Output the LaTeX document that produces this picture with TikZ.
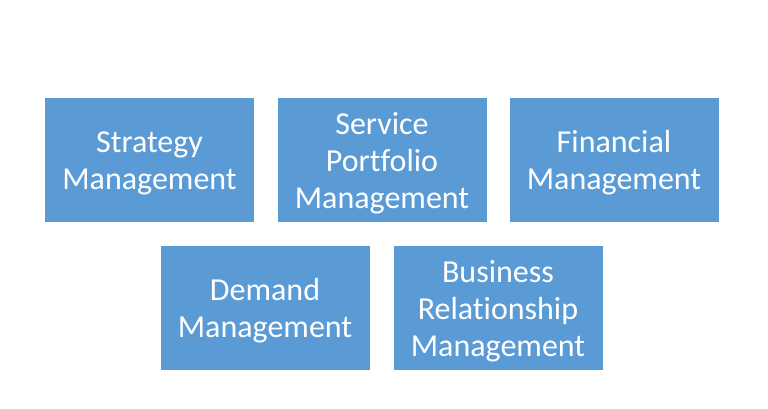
\documentclass[tikz,border=0pt]{standalone}
\usepackage{fontspec}
\setmainfont{Carlito}[Ligatures=NoCommon]
\definecolor{boxblue}{HTML}{5B9BD5}
\begin{document}
\begin{tikzpicture}[x=1pt,y=-1pt,
  card/.style={fill=boxblue, draw=none, minimum width=209pt, minimum height=124pt,
    inner sep=0pt},
  cardtext/.style={inner sep=0pt, text=white, align=center,
    font=\fontsize{32}{37}\selectfont}]
\useasboundingbox (0,0) rectangle (768,408);
\fill[white] (0,0) rectangle (768,408);
\node[card] (strategy) at (149.5,160) {};
\node[card] (portfolio) at (382,160) {};
\node[card] (financial) at (614,160) {};
\node[card] (demand) at (265,308) {};
\node[card] (business) at (498,308) {};
\node[cardtext] (strategyt) at ([yshift=-3pt]strategy.center) {Strategy\\Management};
\node[cardtext] (portfoliot) at ([yshift=-3pt]portfolio.center) {Service\\Portfolio\\Management};
\node[cardtext] (financialt) at ([yshift=-3pt]financial.center) {Financial\\Management};
\node[cardtext] (demandt) at ([yshift=-3pt]demand.center) {Demand\\Management};
\node[cardtext] (businesst) at ([yshift=-3pt]business.center) {Business\\Relationship\\Management};
\end{tikzpicture}
\end{document}
